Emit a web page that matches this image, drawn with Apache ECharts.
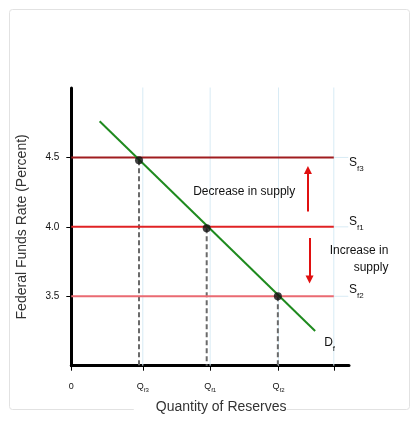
<!DOCTYPE html>
<html>
<head>
<meta charset="utf-8">
<script src="https://cdn.jsdelivr.net/npm/echarts@6/dist/echarts.min.js"></script>
<style>
html, body { margin: 0; padding: 0; background: #fff; }
#main { width: 420px; height: 426px; }
</style>
</head>
<body>
<div id="main"></div>
<script>
// x ticks (reserve quantities) and their labels
var xTicks = [0, 1.035, 2.01, 3.0, 3.8];
var xTickLabels = ['0', 'Q|f3', 'Q|f1', 'Q|f2', ''];
var yTicks = [3.5, 4.0, 4.5];

// supply curves (horizontal at the funds rate)
var supplyNames = ['Sf3', 'Sf1', 'Sf2'];
var supplyRates = [4.5, 4.0, 3.5];
var supplyColors = ['#a01c1f', '#e02224', '#ea6a72'];
var supplyEnd = 3.8;

// demand curve end points
var demandLine = [[0.41, 4.76], [3.53, 3.25]];
// equilibrium points
var equilibrium = [[0.98, 4.48], [1.96, 3.99], [2.99, 3.50]];

// arrows: [x1, y1, x2, y2]
var arrows = [[3.426, 4.11, 3.426, 4.41], [3.449, 3.92, 3.449, 3.62]];

// text notes: [x, y, text, align]
var notes = [
	[2.503, 4.254, 'Decrease in supply', 'center'],
	[4.59, 3.826, 'Increase in', 'right'],
	[4.59, 3.706, 'supply', 'right']
];
// curve labels: [x, y, main, sub]
var curveLabels = [
	[4.02, 4.45, 'S', 'f3'],
	[4.02, 4.02, 'S', 'f1'],
	[4.02, 3.535, 'S', 'f2'],
	[3.66, 3.15, 'D', 'f']
];

var myChart = echarts.init(document.getElementById('main'));

var series = [];

// faint vertical guides
for (var i = 1; i < xTicks.length; i++) {
	series.push({
		type : 'line',
		data : [[xTicks[i], 3], [xTicks[i], 5.02]],
		symbol : 'none',
		silent : true,
		lineStyle : { color : '#d8ebf5', width : 1 },
		z : 1
	});
}

// supply lines + light connectors to their labels
for (var i = 0; i < supplyRates.length; i++) {
	series.push({
		name : supplyNames[i],
		type : 'line',
		data : [[0, supplyRates[i]], [supplyEnd, supplyRates[i]]],
		symbol : 'none',
		lineStyle : { color : supplyColors[i], width : 2 },
		z : 3
	});
	series.push({
		type : 'line',
		data : [[supplyEnd, supplyRates[i]], [4.01, supplyRates[i]]],
		symbol : 'none',
		silent : true,
		lineStyle : { color : '#d8ebf5', width : 1 },
		z : 1
	});
}

// dashed drops from the equilibrium points
for (var i = 0; i < equilibrium.length; i++) {
	series.push({
		type : 'line',
		data : [[equilibrium[i][0], equilibrium[i][1]], [equilibrium[i][0], 3]],
		symbol : 'none',
		lineStyle : { color : '#6a6a6a', width : 2, type : [5, 3] },
		z : 2
	});
}

series.push({
	name : 'Df',
	type : 'line',
	data : demandLine,
	symbol : 'none',
	lineStyle : { color : '#1e8a1e', width : 2 },
	z : 4
});

series.push({
	type : 'scatter',
	data : equilibrium,
	symbolSize : 8,
	itemStyle : { color : '#111' },
	z : 5
});

series.push({
	type : 'lines',
	coordinateSystem : 'cartesian2d',
	data : arrows.map(function(a) {
		return { coords : [[a[0], a[1]], [a[2], a[3]]] };
	}),
	symbol : ['none', 'triangle'],
	symbolSize : 8,
	lineStyle : { color : '#e01010', width : 2, opacity : 1 },
	z : 4
});

var option = {
	animation : false,
	backgroundColor : '#fff',
	textStyle : { fontFamily : 'Arial, Liberation Sans, sans-serif' },
	grid : { left : 71.3, right : 71, top : 88, bottom : 60.3 },
	xAxis : {
		type : 'value',
		min : 0,
		max : 4.02,
		name : 'Quantity of Reserves',
		nameLocation : 'middle',
		nameGap : 34,
		nameTextStyle : {
			fontSize : 14,
			color : '#333',
			padding : [0, 0, 0, 22],
			backgroundColor : '#fff'
		},
		axisLine : { show : true, onZero : false, lineStyle : { color : '#000', width : 3 } },
		axisTick : {
			show : true,
			length : 5,
			customValues : xTicks,
			lineStyle : { color : '#000', width : 1 }
		},
		axisLabel : {
			margin : 16,
			customValues : xTicks,
			formatter : function(v) {
				var idx = xTicks.indexOf(v);
				var t = idx >= 0 ? xTickLabels[idx] : '';
				if (t.indexOf('|') > 0) {
					var p = t.split('|');
					return '{q|' + p[0] + '}{s|' + p[1] + '}';
				}
				return '{q|' + t + '}';
			},
			rich : {
				q : { fontSize : 9, color : '#111', lineHeight : 12, verticalAlign : 'top' },
				s : { fontSize : 6, color : '#111', lineHeight : 12, verticalAlign : 'bottom', padding : [4, 0, 0, 0] }
			}
		},
		splitLine : { show : false }
	},
	yAxis : {
		type : 'value',
		min : 3,
		max : 5,
		name : 'Federal Funds Rate (Percent)',
		nameLocation : 'middle',
		nameGap : 42,
		nameTextStyle : { fontSize : 14, color : '#333' },
		axisLine : { show : true, onZero : false, lineStyle : { color : '#000', width : 3 } },
		axisTick : {
			show : true,
			length : 5,
			customValues : yTicks,
			lineStyle : { color : '#000', width : 1 }
		},
		axisLabel : {
			margin : 12,
			customValues : yTicks,
			fontSize : 10,
			color : '#111',
			formatter : function(v) { return v.toFixed(1); }
		},
		splitLine : { show : false }
	},
	series : series
};

myChart.setOption(option);

// border and annotations placed through the chart's own scales
var g = [{
	type : 'rect',
	shape : { x : 9.5, y : 9.5, width : 400, height : 400, r : 3 },
	style : { fill : 'none', stroke : '#e2e2e2', lineWidth : 1 },
	z : -1
}];
notes.forEach(function(n) {
	var p = myChart.convertToPixel({ gridIndex : 0 }, [n[0], n[1]]);
	g.push({
		type : 'text',
		x : p[0],
		y : p[1],
		style : {
			text : n[2],
			fontSize : 12,
			fontFamily : 'Arial, Liberation Sans, sans-serif',
			fill : '#111',
			align : n[3],
			verticalAlign : 'middle'
		},
		z : 10
	});
});
curveLabels.forEach(function(c) {
	var p = myChart.convertToPixel({ gridIndex : 0 }, [c[0], c[1]]);
	g.push({
		type : 'text',
		x : p[0],
		y : p[1],
		style : {
			text : '{m|' + c[2] + '}{s|' + c[3] + '}',
			fontFamily : 'Arial, Liberation Sans, sans-serif',
			align : 'left',
			verticalAlign : 'middle',
			rich : {
				m : { fontSize : 12, fill : '#111', lineHeight : 16, verticalAlign : 'top' },
				s : { fontSize : 8, fill : '#111', lineHeight : 16, verticalAlign : 'bottom', padding : [6, 0, 0, 0] }
			}
		},
		z : 10
	});
});
myChart.setOption({ graphic : g });
</script>
</body>
</html>
